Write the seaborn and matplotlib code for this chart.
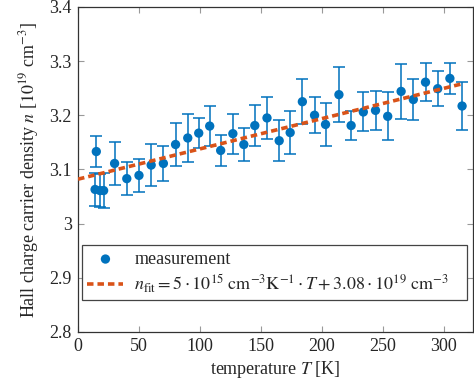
import numpy as np
import pandas as pd
import matplotlib
matplotlib.use("Agg")
import matplotlib.pyplot as plt
import seaborn as sns

# measured Hall carrier density (1e19 cm^-3) vs temperature (K)
temperature = [14, 15, 18, 21, 30, 40, 50, 60, 70, 80, 90, 99, 108, 117, 127, 136, 145,
               155, 165, 174, 184, 194, 203, 214, 224, 234, 244, 254, 265, 275, 285, 295, 305, 315]
density = [3.063, 3.133, 3.061, 3.061, 3.111, 3.083, 3.089, 3.108, 3.111, 3.146, 3.158,
           3.167, 3.180, 3.135, 3.166, 3.146, 3.181, 3.195, 3.153, 3.168, 3.225, 3.200,
           3.183, 3.238, 3.181, 3.206, 3.209, 3.198, 3.244, 3.229, 3.261, 3.249, 3.268, 3.217]
density_err = [0.030, 0.029, 0.030, 0.032, 0.040, 0.030, 0.030, 0.038, 0.033, 0.040, 0.045,
               0.028, 0.037, 0.029, 0.037, 0.030, 0.038, 0.039, 0.038, 0.040, 0.042, 0.033,
               0.040, 0.051, 0.026, 0.036, 0.036, 0.044, 0.051, 0.038, 0.035, 0.032, 0.028, 0.045]

# fitted line end points
fit_T = [0, 315]
fit_n = [3.082, 3.258]

xticks = [0, 50, 100, 150, 200, 250, 300]
yticks = [2.8, 2.9, 3.0, 3.1, 3.2, 3.3, 3.4]
ytick_labels = ["2.8", "2.9", "3", "3.1", "3.2", "3.3", "3.4"]

blue = "#0072BD"
orange = "#D95319"

sns.set_style("ticks")
plt.rcParams['font.family'] = ['Liberation Serif', 'DejaVu Serif']
plt.rcParams['mathtext.fontset'] = 'stix'

df = pd.DataFrame({'T': temperature, 'n': density, 'err': density_err})
fit = pd.DataFrame({'T': fit_T, 'n': fit_n})

fig = plt.figure(figsize=(4.74, 3.82), dpi=100)
ax = fig.add_axes([0.1646, 0.131, 0.8334, 0.851])

ax.errorbar(df['T'], df['n'], yerr=df['err'], fmt='none', ecolor=blue,
            elinewidth=1.1, capsize=4, capthick=1.1, zorder=2)
sns.scatterplot(data=df, x='T', y='n', color=blue, s=45, edgecolor='none',
                label='measurement', ax=ax, zorder=3)
sns.lineplot(data=fit, x='T', y='n', color=orange, linewidth=2.6, dashes=False,
             label=r'$n_{\mathrm{fit}} = 5\cdot10^{15}\ \mathrm{cm}^{-3}\mathrm{K}^{-1}\cdot T + 3.08\cdot10^{19}\ \mathrm{cm}^{-3}$',
             ax=ax, zorder=4)
ax.lines[-1].set_linestyle((0, (1.8, 1.1)))

ax.set_xlim(0, 324)
ax.set_ylim(2.8, 3.4)
ax.set_xticks(xticks)
ax.set_yticks(yticks)
ax.set_yticklabels(ytick_labels)
ax.tick_params(direction='in', top=True, right=True, length=4, width=0.8,
               color='#999999', labelsize=13, pad=4.5)
for s in ax.spines.values():
    s.set_color('#333333')
    s.set_linewidth(0.9)

ax.set_xlabel(r'temperature $T$ [K]', fontsize=13, labelpad=3)
ax.set_ylabel(r'Hall charge carrier density $n$ [$10^{19}$ cm$^{-3}$]', fontsize=13, labelpad=6)

leg = ax.legend(loc='lower left', bbox_to_anchor=(0.01, 0.098, 0.975, 0.176), mode='expand',
                fontsize=13, frameon=True, fancybox=False, framealpha=1,
                edgecolor='#444444', borderpad=0.3, handlelength=2.0, handletextpad=0.6,
                labelspacing=0.25, borderaxespad=0)
leg.get_frame().set_linewidth(0.9)

fig.savefig('out.png', dpi=100)
